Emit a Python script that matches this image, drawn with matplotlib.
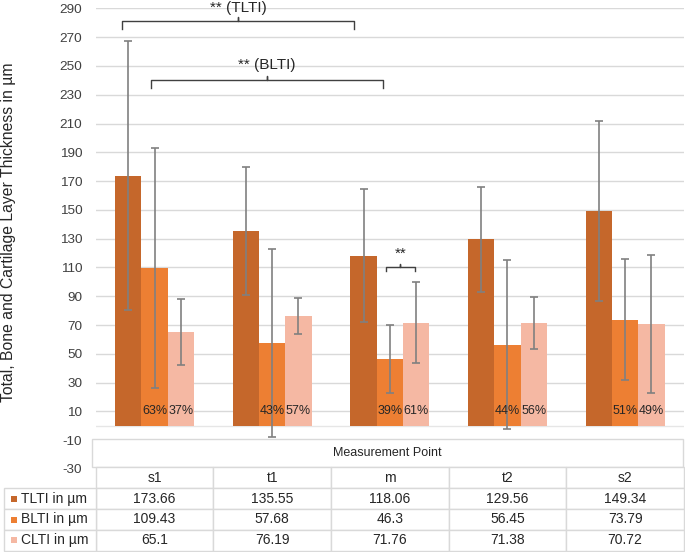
import numpy as np
import matplotlib
matplotlib.use('Agg')
import matplotlib.pyplot as plt
import matplotlib.transforms as mtransforms
from matplotlib.patches import Rectangle

plt.rcParams['font.family'] = ['Liberation Sans', 'DejaVu Sans']
plt.rcParams['axes.unicode_minus'] = False

# %% data -----

points = ['s1', 't1', 'm', 't2', 's2']
series = ['TLTI in µm', 'BLTI in µm', 'CLTI in µm']
tlti = [173.66, 135.55, 118.06, 129.56, 149.34]
blti = [109.43, 57.68, 46.3, 56.45, 73.79]
clti = [65.1, 76.19, 71.76, 71.38, 70.72]
tlti_sd = [93.5, 44.6, 46.2, 36.4, 62.3]
blti_sd = [83.3, 65.5, 23.5, 58.4, 42.0]
clti_sd = [23.0, 12.6, 28.2, 18.3, 47.8]
colors = ['#C5672B', '#ED7F33', '#F5B8A3']

# %% plot -----

fig = plt.figure(figsize=(6.85, 5.52), dpi=100)
ax = fig.add_axes([0.1397, 0.1504, 0.8588, 0.8344])

x = np.arange(len(points))
w = 0.2235
values = [tlti, blti, clti]
sds = [tlti_sd, blti_sd, clti_sd]
for k in range(3):
    xs = x + (k - 1) * w
    ax.bar(xs, values[k], w, color=colors[k], zorder=2)
    ax.errorbar(xs, values[k], yerr=sds[k], fmt='none', ecolor='#808080',
                elinewidth=1.2, capsize=3, capthick=1.2, zorder=3)

# share of bone / cartilage layer
for i in range(len(points)):
    total = blti[i] + clti[i]
    ax.text(x[i], 10, f'{round(100 * blti[i] / total)}%', ha='center', va='center',
            fontsize=9, color='#262626', zorder=4)
    ax.text(x[i] + w, 10, f'{round(100 * clti[i] / total)}%', ha='center', va='center',
            fontsize=9, color='#262626', zorder=4)

ax.set_xlim(-0.5, len(points) - 0.5)
ax.set_ylim(-30, 290)
ax.set_yticks(np.arange(-30, 291, 20))
ax.set_xticks([])
ax.tick_params(axis='y', length=0, pad=9.6, labelsize=9.7, labelcolor='#404040')
ax.grid(axis='y', color='#D9D9D9', lw=1, zorder=0)
ax.axhline(0, color='#E6E6E6', lw=1, zorder=1)
for s in ax.spines.values():
    s.set_visible(False)
ax.set_ylabel('Total, Bone and Cartilage Layer Thickness in µm', fontsize=11.3, color='#262626')
ax.yaxis.set_label_coords(-0.1355, 0.5145)


def bracket(x0, x1, y, label, ty, fs=11):
    d = 5.5
    xm = (x0 + x1) / 2
    ax.plot([x0, x0, xm, xm, xm, x1, x1], [y - d, y, y, y + 3, y, y, y - d],
            color='#404040', lw=1, clip_on=False, zorder=5)
    ax.text(xm, ty, label, ha='center', va='center', fontsize=fs,
            color='#262626', clip_on=False)


bracket(-0.274, 1.698, 281, '** (TLTI)', 290.5)
bracket(-0.032, 1.944, 240.3, '** (BLTI)', 251)
d_small = 2.4
ax.plot([1.964, 1.964, 2.09, 2.09, 2.09, 2.216, 2.216],
        [110.2 - d_small, 110.2, 110.2, 112.2, 110.2, 110.2, 110.2 - d_small],
        color='#404040', lw=1, zorder=5)
ax.text(2.09, 119.2, '**', ha='center', va='center', fontsize=11, color='#262626')

# x axis title box
ax.add_patch(Rectangle((-0.0068, 0.0037), 1.0051, 0.0614, transform=ax.transAxes,
                       facecolor='white', edgecolor='#D9D9D9', lw=1, clip_on=False, zorder=6))
ax.text(0.496, 0.0344, 'Measurement Point', transform=ax.transAxes, ha='center',
        va='center', fontsize=9, color='#262626', zorder=7)

# data table below the plot: columns follow the categories, rows in axes fraction
blend = mtransforms.blended_transform_factory(ax.transData, ax.transAxes)
top = 0.0037
row_h = 0.1811 / 4
grid_kw = dict(facecolor='white', edgecolor='#D9D9D9', lw=1, clip_on=False, zorder=6)
txt_kw = dict(ha='center', va='center', fontsize=10, color='#262626', zorder=7)
for i, p in enumerate(points):
    y0 = top - row_h
    ax.add_patch(Rectangle((x[i] - 0.5, y0), 1, row_h, transform=blend, **grid_kw))
    ax.text(x[i], y0 + row_h / 2, p, transform=blend, **txt_kw)
    for k in range(3):
        y0 = top - (k + 2) * row_h
        ax.add_patch(Rectangle((x[i] - 0.5, y0), 1, row_h, transform=blend, **grid_kw))
        ax.text(x[i], y0 + row_h / 2, f'{values[k][i]:g}', transform=blend, **txt_kw)

lab_x0 = -0.1554
for k in range(3):
    y0 = top - (k + 2) * row_h
    ax.add_patch(Rectangle((lab_x0, y0), -lab_x0, row_h, transform=ax.transAxes, **grid_kw))
    ax.add_patch(Rectangle((-0.1445, y0 + row_h / 2 - 0.0068), 0.0105, 0.013,
                           transform=ax.transAxes, facecolor=colors[k], edgecolor='none',
                           clip_on=False, zorder=8))
    ax.text(-0.1273, y0 + row_h / 2, series[k], transform=ax.transAxes,
            ha='left', va='center', fontsize=10, color='#262626', zorder=7)

plt.savefig('out.png', dpi=100)
